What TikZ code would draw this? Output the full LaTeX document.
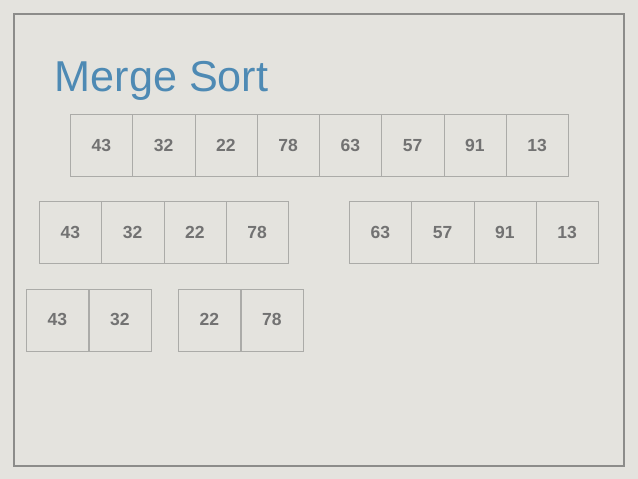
\documentclass[tikz,border=0pt]{standalone}
\usepackage{fontspec}
\setmainfont{Liberation Sans}
\definecolor{bg}{HTML}{E4E3DE}
\definecolor{framec}{HTML}{8C8C8A}
\definecolor{cellc}{HTML}{ABABA8}
\definecolor{numc}{HTML}{727272}
\definecolor{titlec}{HTML}{4E8AB4}
\begin{document}
\begin{tikzpicture}[x=1pt,y=-1pt,
  cell/.style={draw=cellc, line width=0.7pt, minimum width=62.25pt, minimum height=62pt, inner sep=0pt, anchor=north west, font=\fontsize{17.5}{17.5}\selectfont\bfseries, text=numc},
  ]
\fill[bg] (0,0) rectangle (638,479);
\useasboundingbox (0,0) rectangle (638,479);
\draw[framec, line width=1.4pt] (14,14) rectangle (624,466);
\node[anchor=base west, text=titlec, font=\fontsize{43.2}{43.2}\selectfont, inner sep=0pt] (title) at (54.5,91) {Merge Sort};
% row 1
\foreach \v [count=\i from 0] in {43,32,22,78,63,57,91,13}
  \node[cell] (a\i) at (70+\i*62.25,114) {\v};
% row 2
\foreach \v [count=\i from 0] in {43,32,22,78}
  \node[cell] (b\i) at (39+\i*62.25,201) {\v};
\foreach \v [count=\i from 0] in {63,57,91,13}
  \node[cell] (c\i) at (349+\i*62.25,201) {\v};
% row 3
\foreach \v [count=\i from 0] in {43,32}
  \node[cell] (d\i) at (26+\i*62.5,288.5) {\v};
\foreach \v [count=\i from 0] in {22,78}
  \node[cell] (e\i) at (178+\i*62.5,288.5) {\v};
\end{tikzpicture}
\end{document}
